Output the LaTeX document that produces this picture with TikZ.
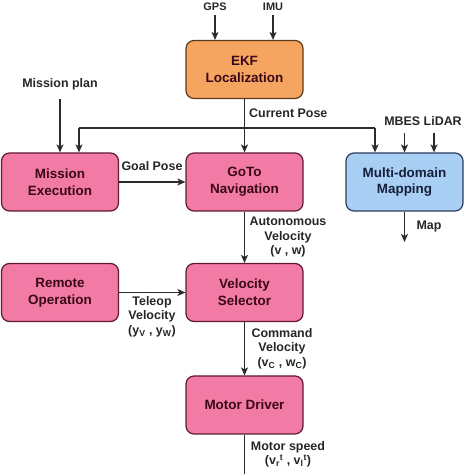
\documentclass[tikz,border=0pt]{standalone}
\usepackage{fontspec}
\setmainfont{Liberation Sans}
\usetikzlibrary{arrows.meta}

\definecolor{ekffill}{HTML}{F6A560}
\definecolor{ekfedge}{HTML}{5A3A1C}
\definecolor{navfill}{HTML}{F27BA5}
\definecolor{navedge}{HTML}{5C1A34}
\definecolor{navtext}{HTML}{3A0818}
\definecolor{mapfill}{HTML}{AACFF5}
\definecolor{mapedge}{HTML}{2C3C5C}
\definecolor{maptext}{HTML}{14203A}
\definecolor{wire}{HTML}{2B2B2B}

\begin{document}
\begin{tikzpicture}[x=1bp,y=1bp,
    box/.style={rounded corners=8bp, line width=1.2bp, minimum width=117bp,
        minimum height=58bp, align=center, inner sep=2bp,
        font=\fontsize{13.5}{16.7}\selectfont\bfseries},
    ekfbox/.style={box, fill=ekffill, draw=ekfedge, text=navtext},
    navbox/.style={box, fill=navfill, draw=navedge, text=navtext},
    mapbox/.style={box, fill=mapfill, draw=mapedge, text=maptext},
    lbl/.style={inner sep=0pt, align=center, text=black!85,
        font=\fontsize{12.5}{14.6}\selectfont\bfseries},
    wirearrow/.style={draw=wire, line width=1.2bp, -{Stealth[length=8bp,width=7bp,inset=2bp]}},
    wireline/.style={draw=wire, line width=1.2bp}]
    \useasboundingbox (0,0) rectangle (474,474);
    \clip (0,0) rectangle (474,474);

    % blocks
    \node[ekfbox] (ekf) at (244.5,404.5) {EKF\\Localization};
    \node[navbox] (mission) at (60,292) {Mission\\Execution};
    \node[navbox] (goto) at (244.5,292) {GoTo\\Navigation};
    \node[mapbox] (mapping) at (404.5,292) {Multi-domain\\Mapping};
    \node[navbox] (remote) at (60,181.5) {Remote\\Operation};
    \node[navbox] (selector) at (244.5,181.5) {Velocity\\Selector};
    \node[navbox] (motor) at (244.5,69) {Motor Driver};

    % inputs
    \node[lbl, anchor=base, font=\fontsize{11}{13}\selectfont\bfseries] (gps) at (215,463) {GPS};
    \node[lbl, anchor=base, font=\fontsize{11}{13}\selectfont\bfseries] (imu) at (273,463) {IMU};
    \coordinate (gps-in) at (215,459);
    \coordinate (imu-in) at (273,459);
    \draw[wirearrow] (gps-in) -- (gps-in |- ekf.north);
    \draw[wirearrow] (imu-in) -- (imu-in |- ekf.north);

    \node[lbl, anchor=base] (plan) at (60,386) {Mission plan};
    \coordinate (plan-in) at (60,375);
    \draw[wirearrow] (plan-in) -- (mission.north);

    \node[lbl, anchor=base] (sensors) at (423,348) {MBES LiDAR};
    \coordinate (mbes-in) at (404.5,341);
    \coordinate (lidar-in) at (434,341);
    \draw[wirearrow] (mbes-in) -- (mbes-in |- mapping.north);
    \draw[wirearrow] (lidar-in) -- (lidar-in |- mapping.north);

    % current pose
    \coordinate (pose) at (244.5,346);
    \coordinate (pose-l) at (79,346);
    \coordinate (pose-r) at (375,346);
    \draw[wirearrow] (ekf.south) -- (goto.north);
    \draw[wireline] (pose-l) -- (pose-r);
    \draw[wirearrow] (pose-l) -- (pose-l |- mission.north);
    \draw[wirearrow] (pose-r) -- (pose-r |- mapping.north);
    \node[lbl, anchor=base west] (poselbl) at (249,356) {Current Pose};

    % navigation chain
    \draw[wirearrow] (mission.east) -- (goto.west);
    \node[lbl, anchor=base] (goal) at (152,303) {Goal Pose};

    \draw[wirearrow] (goto.south) -- (selector.north);
    \node[lbl, anchor=north] (autovel) at (288,257) {Autonomous\\Velocity\\(v , w)};

    \draw[wirearrow] (remote.east) -- (selector.west);
    \node[lbl, anchor=north] (teleop) at (152,178) {Teleop\\Velocity\\(y\textsubscript{V} , y\textsubscript{W})};

    \draw[wirearrow] (selector.south) -- (motor.north);
    \node[lbl, anchor=north] (cmdvel) at (282,146) {Command\\Velocity\\(v\textsubscript{C} , w\textsubscript{C})};

    \coordinate (motor-out) at (244.5,-10);
    \draw[wirearrow] (motor.south) -- (motor-out);
    \node[lbl, anchor=north] (speed) at (288,33) {Motor speed\\(v\textsubscript{r}\textsuperscript{t} , v\textsubscript{l}\textsuperscript{t})};

    % map output
    \coordinate (map-out) at (404.5,232);
    \draw[wirearrow] (mapping.south) -- (map-out);
    \node[lbl, anchor=base] (maplbl) at (429,244) {Map};
\end{tikzpicture}
\end{document}
